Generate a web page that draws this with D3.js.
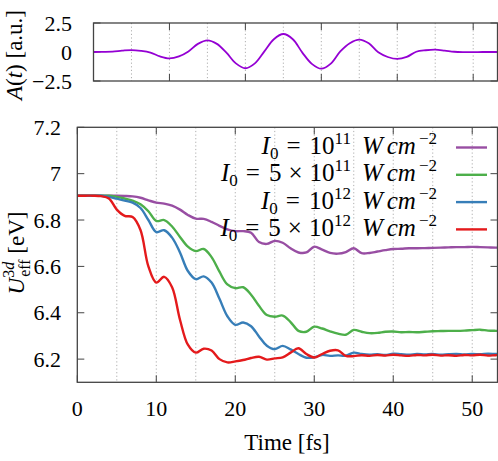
<!DOCTYPE html>
<html>
<head>
  <meta charset="utf-8">
  <script src="https://d3js.org/d3.v7.min.js"></script>
  <style>
    body { margin: 0; background: #fff; }
    .grid { stroke: #9a9a9a; stroke-width: 0.8; stroke-dasharray: 1.2,2.4; }
    .tick { stroke: #444; stroke-width: 1; }
    .frame { fill: none; stroke: #444; stroke-width: 1.3; }
  </style>
</head>
<body>
<script>
  // pulse A(t)
  var pulseTime = [0, 1.25, 2.5, 3.75, 5, 6.25, 7.5, 8.75, 10, 11.25, 12.5, 13.75, 15, 16.25,
    17.5, 18.75, 20, 21.25, 22.5, 23.75, 25, 26.25, 27.5, 28.75, 30, 31.25, 32.5, 33.75,
    35, 36.25, 37.5, 38.75, 40, 41.25, 42.5, 43.75, 45, 46.25, 47.5, 48.75, 50, 51.25,
    52.5, 53.75];
  var pulseA = [0, 0.01, 0.03, 0.11, 0.17, 0.1, -0.05, -0.38, -0.55, -0.38, 0.05, 0.7, 1.0,
    0.7, -0.05, -0.98, -1.4, -0.98, 0.05, 1.1, 1.55, 1.1, -0.05, -1.02, -1.44, -1.0, 0.05,
    0.76, 1.07, 0.75, -0.03, -0.43, -0.6, -0.42, 0.02, 0.15, 0.2, 0.12, 0.02, -0.01, -0.01,
    0, 0, 0];

  // U_eff^3d curves, one value per fs
  var time = [0, 1, 2, 3, 4, 5, 6, 7, 8, 9, 10, 11, 12, 13, 14, 15, 16, 17, 18, 19, 20,
    21, 22, 23, 24, 25, 26, 27, 28, 29, 30, 31, 32, 33, 34, 35, 36, 37, 38, 39, 40,
    41, 42, 43, 44, 45, 46, 47, 48, 49, 50, 51, 52, 53, 54];

  var u1e11 = [6.905, 6.905, 6.905, 6.905, 6.905, 6.905, 6.904, 6.902, 6.896, 6.885, 6.875,
    6.871, 6.862, 6.845, 6.822, 6.806, 6.805, 6.792, 6.775, 6.76, 6.752, 6.752, 6.745,
    6.705, 6.697, 6.71, 6.702, 6.678, 6.66, 6.66, 6.685, 6.672, 6.658, 6.655, 6.662, 6.678,
    6.657, 6.658, 6.664, 6.67, 6.675, 6.676, 6.678, 6.678, 6.679, 6.68, 6.681, 6.682,
    6.683, 6.683, 6.684, 6.683, 6.682, 6.681, 6.681];
  var u5e11 = [6.905, 6.905, 6.905, 6.905, 6.905, 6.9, 6.893, 6.884, 6.868, 6.838, 6.796,
    6.8, 6.772, 6.727, 6.685, 6.666, 6.675, 6.64, 6.577, 6.522, 6.506, 6.51, 6.478, 6.43,
    6.39, 6.383, 6.388, 6.36, 6.322, 6.318, 6.34, 6.332, 6.32, 6.31, 6.305, 6.326, 6.318,
    6.312, 6.313, 6.318, 6.319, 6.316, 6.317, 6.316, 6.318, 6.32, 6.321, 6.322, 6.322,
    6.323, 6.325, 6.327, 6.323, 6.322, 6.322];
  var u1e12 = [6.905, 6.905, 6.905, 6.905, 6.9, 6.892, 6.884, 6.875, 6.852, 6.8, 6.748,
    6.756, 6.724, 6.66, 6.58, 6.545, 6.557, 6.53, 6.46, 6.385, 6.348, 6.358, 6.342, 6.298,
    6.258, 6.243, 6.257, 6.242, 6.222, 6.206, 6.208, 6.218, 6.214, 6.216, 6.215, 6.228,
    6.222, 6.219, 6.221, 6.218, 6.223, 6.221, 6.219, 6.222, 6.22, 6.222, 6.219, 6.221,
    6.222, 6.22, 6.222, 6.221, 6.223, 6.222, 6.222];
  var u5e12 = [6.905, 6.905, 6.905, 6.903, 6.893, 6.845, 6.818, 6.813, 6.757, 6.6, 6.53,
    6.555, 6.51, 6.37, 6.262, 6.228, 6.245, 6.237, 6.2, 6.186, 6.19, 6.196, 6.205, 6.21,
    6.198, 6.203, 6.208, 6.228, 6.247, 6.222, 6.207, 6.222, 6.236, 6.238, 6.214, 6.213,
    6.217, 6.214, 6.218, 6.215, 6.219, 6.216, 6.214, 6.218, 6.216, 6.219, 6.215, 6.217,
    6.214, 6.218, 6.216, 6.219, 6.215, 6.217, 6.216];

  var seriesValues = [u1e11, u5e11, u1e12, u5e12];
  var seriesColors = ["#984ea3", "#4daf4a", "#377eb8", "#e41a1c"];
  var legendPrefix = ["", "5", "", "5"];
  var legendExp = ["11", "11", "12", "12"];

  var xTicks = [0, 10, 20, 30, 40, 50];
  var xGrid = [5, 10, 15, 20, 25, 30, 35, 40, 45, 50];
  var yTicks = [6.2, 6.4, 6.6, 6.8, 7, 7.2];
  var yTicksTop = [-2.5, 0, 2.5];

  var svg = d3.select("body").append("svg")
    .attr("width", 498)
    .attr("height", 461);

  var defs = svg.append("defs");

  function addText(sel, size) {
    return sel.append("text")
      .attr("font-family", "Liberation Serif")
      .attr("font-size", size)
      .attr("fill", "#000");
  }

  function panel(id, x, y) {
    var l = x.range()[0], r = x.range()[1], b = y.range()[0], t = y.range()[1];
    defs.append("clipPath").attr("id", id)
      .append("rect").attr("x", l).attr("y", t).attr("width", r - l).attr("height", b - t);
    var g = svg.append("g");
    g.selectAll(".grid").data(xGrid).enter().append("line")
      .attr("class", "grid")
      .attr("x1", function(d) { return x(d); }).attr("x2", function(d) { return x(d); })
      .attr("y1", t).attr("y2", b);
    // major ticks, inward top and bottom
    g.selectAll(".xt").data(xTicks).enter().append("path")
      .attr("class", "tick")
      .attr("d", function(d) { return "M" + x(d) + "," + b + "v-7M" + x(d) + "," + t + "v7"; });
    return g;
  }

  // ---- top panel: A(t)
  var xTop = d3.scaleLinear().domain([0, 53.2]).range([93.5, 497.5]);
  var yTop = d3.scaleLinear().domain([-2.5, 2.5]).range([81, 23]);
  var gTop = panel("clipTop", xTop, yTop);

  gTop.selectAll(".yt").data(yTicksTop).enter().append("path")
    .attr("class", "tick")
    .attr("d", function(d) { return "M93.5," + yTop(d) + "h7M497.5," + yTop(d) + "h-7"; });
  yTicksTop.forEach(function(d) {
    addText(gTop, 22)
      .attr("x", 72).attr("y", yTop(d) + 7.5)
      .attr("text-anchor", "end")
      .text(d < 0 ? "\u2212" + (-d) : d);
  });

  gTop.append("path")
    .datum(pulseTime.map(function(t, i) { return [t, pulseA[i]]; }))
    .attr("clip-path", "url(#clipTop)")
    .attr("fill", "none").attr("stroke", "#9400d3").attr("stroke-width", 1.8)
    .attr("d", d3.line().x(function(d) { return xTop(d[0]); })
      .y(function(d) { return yTop(d[1]); }).curve(d3.curveCatmullRom));

  gTop.append("rect").attr("class", "frame")
    .attr("x", 93.5).attr("y", 23).attr("width", 404).attr("height", 58);

  var labTop = addText(svg, 23)
    .attr("transform", "translate(22,55) rotate(-90)")
    .attr("text-anchor", "middle");
  labTop.append("tspan").attr("font-style", "italic").text("A");
  labTop.append("tspan").text("(");
  labTop.append("tspan").attr("font-style", "italic").text("t");
  labTop.append("tspan").text(") [a.u.]");

  // ---- bottom panel: U_eff
  var x = d3.scaleLinear().domain([0, 53.2]).range([77.3, 497.5]);
  var y = d3.scaleLinear().domain([6.1, 7.2]).range([382.3, 127.3]);
  var g = panel("clipMain", x, y);

  g.selectAll(".yt").data(yTicks).enter().append("path")
    .attr("class", "tick")
    .attr("d", function(d) { return "M77.3," + y(d) + "h7M497.5," + y(d) + "h-7"; });
  yTicks.forEach(function(d) {
    addText(g, 22).attr("x", 61).attr("y", y(d) + 7.5)
      .attr("text-anchor", "end").text(d);
  });
  xTicks.forEach(function(d) {
    addText(g, 22).attr("x", x(d)).attr("y", 415.5)
      .attr("text-anchor", "middle").text(d);
  });

  var line = d3.line()
    .x(function(d) { return x(d[0]); })
    .y(function(d) { return y(d[1]); })
    .curve(d3.curveCatmullRom);

  seriesValues.forEach(function(vals, k) {
    g.append("path")
      .datum(time.map(function(t, i) { return [t, vals[i]]; }))
      .attr("clip-path", "url(#clipMain)")
      .attr("fill", "none")
      .attr("stroke", seriesColors[k])
      .attr("stroke-width", 2.4)
      .attr("stroke-linejoin", "round")
      .attr("d", line);
  });

  g.append("rect").attr("class", "frame")
    .attr("x", 77.3).attr("y", 127.3).attr("width", 420.2).attr("height", 255);

  // legend
  legendExp.forEach(function(e, k) {
    var base = 154 + k * 27.3;
    var txt = addText(svg, 25)
      .attr("x", 437).attr("y", base)
      .attr("text-anchor", "end");
    txt.append("tspan").attr("font-style", "italic").text("I");
    txt.append("tspan").attr("dy", 5).attr("font-size", 17).text("0");
    txt.append("tspan").attr("dy", -5).attr("dx", 8).text("=");
    if (legendPrefix[k]) {
      txt.append("tspan").attr("dx", 9).text(legendPrefix[k]);
      txt.append("tspan").attr("dx", 7).text("\u00d7");
      txt.append("tspan").attr("dx", 7).text("10");
    } else {
      txt.append("tspan").attr("dx", 9).text("10");
    }
    txt.append("tspan").attr("dy", -10).attr("font-size", 17).text(e);
    txt.append("tspan").attr("dy", 10).attr("dx", 11).attr("font-style", "italic").text("W");
    txt.append("tspan").attr("dx", 4).attr("font-style", "italic").text("cm");
    txt.append("tspan").attr("dy", -10).attr("dx", 3).attr("font-size", 17).text("\u22122");

    svg.append("line")
      .attr("x1", 456).attr("x2", 487)
      .attr("y1", base - 6.5).attr("y2", base - 6.5)
      .attr("stroke", seriesColors[k]).attr("stroke-width", 2.4);
  });

  // axis titles
  addText(svg, 23)
    .attr("x", 287).attr("y", 450)
    .attr("text-anchor", "middle")
    .text("Time [fs]");

  var labY = addText(svg, 23)
    .attr("transform", "translate(24,253) rotate(-90)")
    .attr("text-anchor", "middle");
  labY.append("tspan").attr("font-style", "italic").text("U");
  labY.append("tspan").attr("dy", -10).attr("font-size", 16).text("3");
  labY.append("tspan").attr("font-size", 16).attr("font-style", "italic").text("d");
  labY.append("tspan").attr("dy", 16).attr("dx", -15).attr("font-size", 16).text("eff");
  labY.append("tspan").attr("dy", -6).text(" [eV]");
</script>
</body>
</html>
